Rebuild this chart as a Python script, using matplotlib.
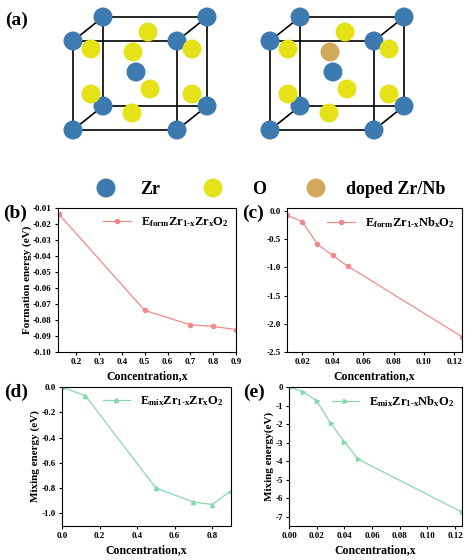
import matplotlib
matplotlib.use("Agg")
import matplotlib.pyplot as plt
from matplotlib.patches import Circle

plt.rcParams["font.family"] = ["Liberation Serif", "DejaVu Serif"]
plt.rcParams["font.weight"] = "bold"
plt.rcParams["mathtext.fontset"] = "custom"
plt.rcParams["mathtext.rm"] = "Liberation Serif:bold"
plt.rcParams["mathtext.it"] = "Liberation Serif:bold"

W, H = 474, 560

# (b) formation energy, Zr1-xZrxO2
form_zr_x = [0.125, 0.5, 0.7, 0.8, 0.9]
form_zr_y = [-0.014, -0.074, -0.083, -0.084, -0.086]
# (c) formation energy, Zr1-xNbxO2
form_nb_x = [0.01, 0.02, 0.03, 0.04, 0.05, 0.125]
form_nb_y = [-0.08, -0.19, -0.59, -0.79, -0.98, -2.23]
# (d) mixing energy, Zr1-xZrxO2
mix_zr_x = [0.0, 0.125, 0.5, 0.7, 0.8, 0.9]
mix_zr_y = [0.0, -0.07, -0.80, -0.91, -0.93, -0.82]
# (e) mixing energy, Zr1-xNbxO2
mix_nb_x = [0.0, 0.01, 0.02, 0.03, 0.04, 0.05, 0.125]
mix_nb_y = [0.0, -0.25, -0.75, -1.95, -2.95, -3.9, -6.75]

# crystal schematic (pixel coords of left cell; right cell is shifted)
cube_front = (73, 41, 177, 130)  # x0, y0, x1, y1
cube_back_offset = (30, -24)
cell_shift = 197
zr_atoms = [(136, 72)]
o_atoms = [(148, 32), (91, 49), (192, 49), (91, 94), (150, 89), (192, 94), (132, 113)]
doped_o = (133, 52)  # replaced by dopant in right cell

ZR_C, O_C, DOP_C = "#3d7ab0", "#e6e21a", "#d2a85a"
RED, GREEN = "#f08a8a", "#86d9ad"


def px_rect(x0, y0, x1, y1):
    return [x0 / W, 1 - y1 / H, (x1 - x0) / W, (y1 - y0) / H]


fig = plt.figure(figsize=(W / 100, H / 100), dpi=100)

# ---- panel (a)
axa = fig.add_axes([0, 0, 1, 1])
axa.set_xlim(0, W)
axa.set_ylim(H, 0)
axa.axis("off")


def sphere(x, y, c, r=9.5):
    axa.add_patch(Circle((x, y), r, facecolor=c, edgecolor="none", zorder=3))


for k in range(2):
    s = k * cell_shift
    x0, y0, x1, y1 = cube_front
    dx, dy = cube_back_offset
    front = [(x0 + s, y0), (x1 + s, y0), (x1 + s, y1), (x0 + s, y1)]
    back = [(px + dx, py + dy) for px, py in front]
    for sq in (front, back):
        xs = [p[0] for p in sq] + [sq[0][0]]
        ys = [p[1] for p in sq] + [sq[0][1]]
        axa.plot(xs, ys, color="black", lw=1.2, zorder=1)
    for a, b in zip(front, back):
        axa.plot([a[0], b[0]], [a[1], b[1]], color="black", lw=1.2, zorder=1)
    for p in back + front:
        sphere(*p, ZR_C)
    for p in zr_atoms:
        sphere(p[0] + s, p[1], ZR_C)
    for p in o_atoms:
        sphere(p[0] + s, p[1], O_C)
    sphere(doped_o[0] + s, doped_o[1], O_C if k == 0 else DOP_C)

axa.text(5, 20, "(a)", fontsize=14, weight="bold", va="center")
for x, c, lab, tx in [(106, ZR_C, "Zr", 140), (213, O_C, "O", 252), (316, DOP_C, "doped Zr/Nb", 346)]:
    sphere(x, 188, c)
    axa.text(tx, 189, lab, fontsize=13, weight="bold", va="center")


def panel(rect, xs, ys, color, marker, label, xlim, ylim, xticks, yticks, ylabel, letter, lpos, yfmt):
    ax = fig.add_axes(px_rect(*rect))
    ax.plot(xs, ys, color=color, lw=0.9, marker=marker, ms=3, label=label, clip_on=True)
    ax.set_xlim(*xlim)
    ax.set_ylim(*ylim)
    ax.set_xticks(xticks)
    ax.set_xticklabels([f"{v:.2f}" if xlim[1] < 0.2 else f"{v:.1f}" for v in xticks])
    ax.set_yticks(yticks)
    ax.set_yticklabels([yfmt(v) for v in yticks])
    ax.tick_params(labelsize=6.5, direction="out", length=2.5, pad=2)
    ax.set_xlabel("Concentration,x", fontsize=8.5, weight="bold", labelpad=3)
    if ylabel:
        ax.set_ylabel(ylabel, fontsize=8, weight="bold", labelpad=1)
    ax.legend(loc="upper right", frameon=False, fontsize=9, handlelength=2.2, borderaxespad=0.2)
    fig.text(lpos[0] / W, 1 - lpos[1] / H, letter, fontsize=14, weight="bold", va="center")
    return ax


panel((58, 208, 236, 352), form_zr_x, form_zr_y, RED, "o",
      r"E$_{\mathrm{form}}$Zr$_{\text{1-x}}$Zr$_{\mathrm{x}}$O$_2$",
      (0.12, 0.9), (-0.10, -0.01), [0.2, 0.3, 0.4, 0.5, 0.6, 0.7, 0.8, 0.9],
      [-0.10, -0.09, -0.08, -0.07, -0.06, -0.05, -0.04, -0.03, -0.02, -0.01],
      "Formation energy (eV)", "(b)", (3, 213), lambda v: f"{v:.2f}")
panel((287, 208, 462, 352), form_nb_x, form_nb_y, RED, "o",
      r"E$_{\mathrm{form}}$Zr$_{\text{1-x}}$Nb$_{\mathrm{x}}$O$_2$",
      (0.01, 0.125), (-2.5, 0.05), [0.02, 0.04, 0.06, 0.08, 0.10, 0.12],
      [-2.5, -2.0, -1.5, -1.0, -0.5, 0.0],
      None, "(c)", (242, 213), lambda v: f"{v:.1f}")
panel((62, 387, 231, 526), mix_zr_x, mix_zr_y, GREEN, "^",
      r"E$_{\mathrm{mix}}$Zr$_{\text{1-x}}$Zr$_{\mathrm{x}}$O$_2$",
      (0.0, 0.9), (-1.1, 0.0), [0.0, 0.2, 0.4, 0.6, 0.8],
      [-1.0, -0.8, -0.6, -0.4, -0.2, 0.0],
      "Mixing energy (eV)", "(d)", (4, 392), lambda v: f"{v:.1f}")
panel((289, 387, 462, 526), mix_nb_x, mix_nb_y, GREEN, ">",
      r"E$_{\mathrm{mix}}$Zr$_{\text{1-x}}$Nb$_{\mathrm{x}}$O$_2$",
      (0.0, 0.125), (-7.5, 0.0), [0.0, 0.02, 0.04, 0.06, 0.08, 0.10, 0.12],
      [-7, -6, -5, -4, -3, -2, -1, 0],
      "Mixing energy(eV)", "(e)", (243, 392), lambda v: f"{v:d}")

fig.savefig("out.png", dpi=100)
